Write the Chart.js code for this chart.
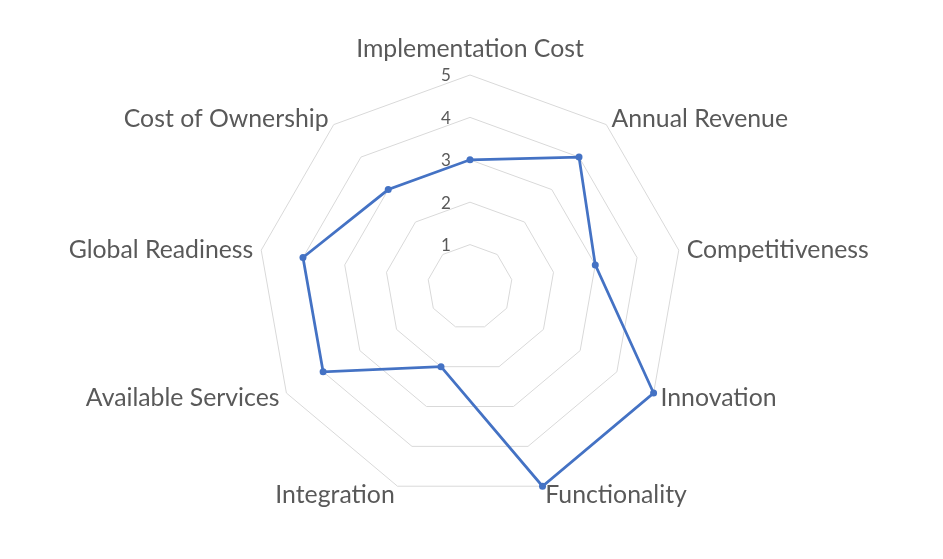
<!DOCTYPE html>
<html>
<head>
<meta charset="utf-8">
<script src="https://cdn.jsdelivr.net/npm/chart.js@4.4.1/dist/chart.umd.min.js"></script>
<style>
  html, body { margin: 0; padding: 0; background: #ffffff; }
  #wrap { width: 943px; height: 559px; position: relative; }
</style>
</head>
<body>
<div id="wrap"><canvas id="c"></canvas></div>
<script>
const categories = ["Implementation Cost", "Annual Revenue", "Competitiveness", "Innovation", "Functionality", "Integration", "Available Services", "Global Readiness", "Cost of Ownership"];
const scores = [3, 4, 3, 5, 5, 2, 4, 4, 3];
const tickValues = [1, 2, 3, 4, 5];

const labelFont = '24.8px Lato';
const textColor = '#595959';

const labelsPlugin = {
  id: 'radarLabels',
  afterDraw(chart) {
    const s = chart.scales.r;
    const ctx = chart.ctx;
    ctx.save();
    // tick labels, left of the vertical axis
    ctx.font = '17px Lato';
    ctx.fillStyle = textColor;
    ctx.textAlign = 'center';
    ctx.textBaseline = 'middle';
    tickValues.forEach(v => {
      const d = s.getDistanceFromCenterForValue(v);
      ctx.fillText(String(v), s.xCenter - 24, s.yCenter - d + 1);
    });
    // category labels
    ctx.font = labelFont;
    ctx.textBaseline = 'alphabetic';
    const capHalf = 8.9;
    categories.forEach((name, i) => {
      const p = s.getPointPosition(i, s.drawingArea + 8);
      let deg = ((p.angle + Math.PI / 2) * 180 / Math.PI) % 360;
      if (deg < 0) deg += 360;
      let x = p.x, y = p.y + capHalf;
      if (Math.abs(deg) < 1 || Math.abs(deg - 360) < 1) {
        ctx.textAlign = 'center';
        y = s.yCenter - s.drawingArea - 18;
      } else if (deg < 180) {
        ctx.textAlign = 'left';
      } else {
        ctx.textAlign = 'right';
      }
      ctx.fillText(name, x, y);
    });
    ctx.restore();
  }
};

new Chart(document.getElementById('c'), {
  type: 'radar',
  data: {
    labels: categories,
    datasets: [{
      label: 'Score',
      data: scores,
      borderColor: '#4472C4',
      backgroundColor: '#4472C4',
      borderWidth: 2.75,
      pointRadius: 3.5,
      pointBackgroundColor: '#4472C4',
      pointBorderWidth: 0,
      fill: false,
      tension: 0
    }]
  },
  options: {
    responsive: true,
    maintainAspectRatio: false,
    animation: false,
    layout: { padding: { top: 75, bottom: 59, left: 100, right: 103 } },
    plugins: { legend: { display: false }, tooltip: { enabled: false } },
    scales: {
      r: {
        min: 0,
        max: 5,
        ticks: { stepSize: 1, display: false },
        grid: { color: '#d9d9d9', lineWidth: 1 },
        angleLines: { display: false },
        pointLabels: { display: false }
      }
    }
  },
  plugins: [labelsPlugin]
});
</script>
</body>
</html>
